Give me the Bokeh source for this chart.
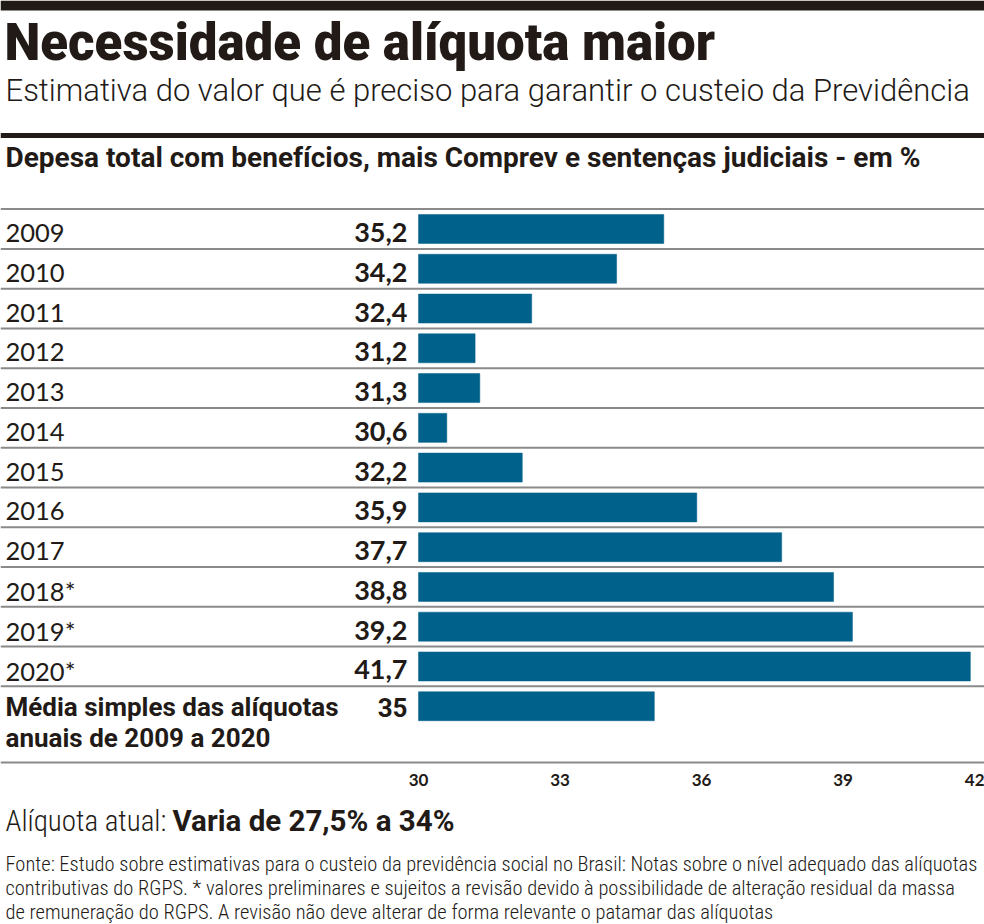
from bokeh.plotting import figure
from bokeh.models import ColumnDataSource, Label, Range1d, Span
from bokeh.core.properties import value
from bokeh.embed import file_html
from bokeh.resources import INLINE

# --- data -------------------------------------------------------------
years = ["2009", "2010", "2011", "2012", "2013", "2014", "2015", "2016",
         "2017", "2018*", "2019*", "2020*"]
rates = [35.2, 34.2, 32.4, 31.2, 31.3, 30.6, 32.2, 35.9, 37.7, 38.8, 39.2, 41.7]
avg_label = ["Média simples das alíquotas", "anuais de 2009 a 2020"]
avg_rate = 35
ticks = [30, 33, 36, 39, 42]

title = "Necessidade de alíquota maior"
subtitle = "Estimativa do valor que é preciso para garantir o custeio da Previdência"
header = "Depesa total com benefícios, mais Comprev e sentenças judiciais - em %"
current_lbl = "Alíquota atual:"
current_val = "Varia de 27,5% a 34%"
source_lines = [
    "Fonte: Estudo sobre estimativas para o custeio da previdência social no Brasil: Notas sobre o nível adequado das alíquotas",
    "contributivas do RGPS. * valores preliminares e sujeitos a revisão devido à possibilidade de alteração residual da massa",
    "de remuneração do RGPS. A revisão não deve alterar de forma relevante o patamar das alíquotas",
]

# --- page geometry ----------------------------------------------------
W, H = 984, 924
X0_PX, X1_PX = 418, 984          # pixel span of the value scale
X_MIN, X_MAX = 30, 42
UNIT = (X1_PX - X0_PX) / (X_MAX - X_MIN)
ROW0_PX, ROW_PX = 228.5, 39.77   # centre of first row, row pitch
BASE_FIX = 0.37                  # svg alphabetic baseline correction (em)


def xpx(px):
    return X_MIN + (px - X0_PX) / UNIT


def ypx(py):
    return (py - ROW0_PX) / ROW_PX


INK = "#221a16"
BAR = "#00618b"
RULE = "#8a8a8a"

p = figure(width=W, height=H, output_backend="svg", toolbar_location=None,
           x_range=Range1d(xpx(0), xpx(W)), y_range=Range1d(ypx(H), ypx(0)),
           min_border=0)
p.axis.visible = False
p.grid.visible = False
p.outline_line_color = None
p.background_fill_color = "white"
p.border_fill_color = "white"

# --- bars ---------------------------------------------------------------
rows = list(range(len(years)))
avg_row = len(years)
labels = [f"{v:.1f}".replace(".", ",") for v in rates]

src = ColumnDataSource(dict(y=rows, left=[X_MIN] * len(rows), right=rates,
                            year=years, lab=labels))
p.hbar(y="y", left="left", right="right", height=29 / ROW_PX, source=src,
       fill_color=BAR, line_color=BAR, line_width=0.5)
p.hbar(y=[avg_row], left=[X_MIN], right=[avg_rate], height=29 / ROW_PX,
       fill_color=BAR, line_color=BAR, line_width=0.5)

# row separators
for k in range(len(years) + 1):
    p.add_layout(Span(location=k - 0.5, dimension="width", line_color=RULE,
                      line_width=2))
p.add_layout(Span(location=ypx(762), dimension="width", line_color=RULE,
                  line_width=2))


def off(base_px, size):
    """screen offset that puts the text baseline base_px below the row centre"""
    return base_px - BASE_FIX * size


# year labels and values
p.text(x=xpx(5), y="y", text="year", source=src, y_offset=off(13.5, 25.5),
       text_font=value("Lato"), text_font_size="25.5px",
       text_color=INK, text_baseline="alphabetic", text_align="left")
p.text(x=xpx(407), y="y", text="lab", source=src, y_offset=off(13.5, 27),
       text_font=value("Lato"), text_font_size="27px", text_font_style="bold",
       text_color=INK, text_baseline="alphabetic", text_align="right")

p.text(x=[xpx(5)] * 2, y=[avg_row] * 2, text=avg_label,
       y_offset=[off(10.5, 26), off(41.5, 26)],
       text_font=value("Roboto"), text_font_size="26px", text_font_style="bold",
       text_color=INK, text_baseline="alphabetic", text_align="left")
p.text(x=[xpx(407)], y=[avg_row], text=[str(avg_rate)], y_offset=off(10.5, 26),
       text_font=value("Roboto"), text_font_size="26px", text_font_style="bold",
       text_color=INK, text_baseline="alphabetic", text_align="right")

# scale labels
p.text(x=ticks[:-1], y=[ypx(779)] * (len(ticks) - 1),
       text=[str(t) for t in ticks[:-1]],
       text_font=value("Lato"), text_font_size="17px", text_font_style="bold",
       text_color=INK, text_baseline="middle", text_align="center")
p.text(x=ticks[-1:], y=[ypx(779)], text=[str(ticks[-1])],
       text_font=value("Lato"), text_font_size="17px", text_font_style="bold",
       text_color=INK, text_baseline="middle", text_align="right")

# --- heading block ------------------------------------------------------
p.add_layout(Span(location=ypx(5), dimension="width", line_color=INK,
                  line_width=10))
p.add_layout(Span(location=ypx(135), dimension="width", line_color=INK,
                  line_width=5))


def put(text, x, base, font, size, style="normal", align="left"):
    p.add_layout(Label(x=xpx(x), y=ypx(base - BASE_FIX * size), text=text,
                       text_font=font, text_font_size=f"{size}px",
                       text_font_style=style, text_color=INK,
                       text_baseline="alphabetic", text_align=align))


put(title, 4, 61, "Roboto Black, Roboto", 51, "bold")
put(subtitle, 5, 101, "Roboto Light, Roboto", 31)
put(header, 5, 167, "Roboto", 28, "bold")
put(current_lbl, 5, 831, "Roboto Condensed Light, Roboto Condensed", 29)
put(current_val, 172, 831, "Roboto", 29.5, "bold")
for i, line in enumerate(source_lines):
    put(line, 5, 871 + 24 * i, "Roboto Condensed Light, Roboto Condensed", 20.5)

open("out.html", "w").write(file_html(p, INLINE))
